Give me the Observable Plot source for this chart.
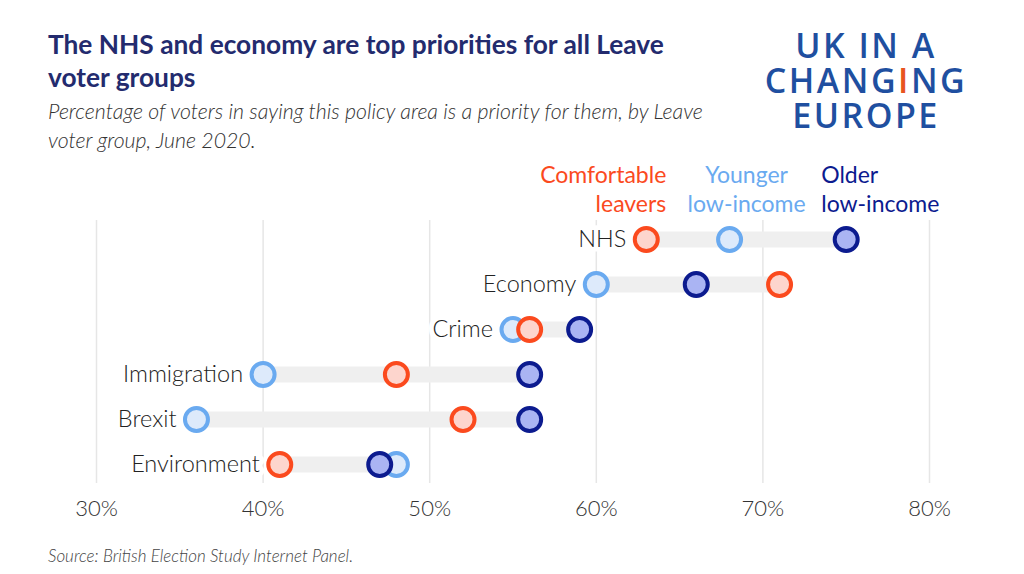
<!DOCTYPE html>
<html>
<head>
<meta charset="utf-8">
<script src="https://cdn.jsdelivr.net/npm/d3@7"></script>
<script src="https://cdn.jsdelivr.net/npm/@observablehq/plot@0.6"></script>
<style>
  html, body { margin: 0; padding: 0; background: #fff; }
  #wrap { position: relative; width: 1024px; height: 574px; overflow: hidden; font-family: Lato, "Open Sans", sans-serif; }
  #title { position: absolute; left: 48px; top: 28px; font-size: 26.3px; font-weight: 700; color: #232b6e; line-height: 33px; }
  #subtitle { position: absolute; left: 48px; top: 97px; font-size: 21.3px; font-style: italic; font-weight: 300; color: #333; line-height: 29px; }
  .logo { position: absolute; left: 741px; width: 250px; height: 35px; text-align: center; font-family: "Open Sans", sans-serif; font-weight: 600; font-size: 34px; line-height: 35px; color: #1f4fa0; letter-spacing: 2.5px; }
  .logo .o { color: #e8541e; }
  #chart { position: absolute; left: 0; top: 150px; }
  #caption { position: absolute; left: 48px; top: 545px; font-size: 17px; font-style: italic; font-weight: 300; color: #444; }
</style>
</head>
<body>
<div id="wrap">
  <div id="title">The NHS and economy are top priorities for all Leave<br>voter groups</div>
  <div id="subtitle">Percentage of voters in saying this policy area is a priority for them, by Leave<br>voter group, June 2020.</div>
  <div class="logo" style="top:28px">UK IN A</div>
  <div class="logo" style="top:63px">CHANG<span class="o">I</span>NG</div>
  <div class="logo" style="top:98px">EUROPE</div>
  <div id="chart"></div>
  <div id="caption">Source: British Election Study Internet Panel.</div>
</div>
<script>
const categories = ["NHS", "Economy", "Crime", "Immigration", "Brexit", "Environment"];
const comfortable = [63, 71, 56, 48, 52, 41];
const younger = [68, 60, 55, 40, 36, 48];
const older = [75, 66, 59, 56, 56, 47];
const groupLabels = ["Comfortable\nleavers", "Younger\nlow-income", "Older\nlow-income"];
const xTicks = [30, 40, 50, 60, 70, 80];

const rows = categories.map((c, i) => ({
  cat: c,
  comfortable: comfortable[i],
  younger: younger[i],
  older: older[i],
  min: Math.min(comfortable[i], younger[i], older[i]),
  max: Math.max(comfortable[i], younger[i], older[i])
}));

const colors = {
  comfortable: {stroke: "#fb4a1e", fill: "#fdd5cd"},
  younger: {stroke: "#6aaaf0", fill: "#ddeafb"},
  older: {stroke: "#0c1b8f", fill: "#aab4f3"}
};

const font = "Lato, 'Open Sans', sans-serif";

function legendText(label, value, color, anchor, dx) {
  return Plot.text([{label, value, cat: categories[0]}], {
    x: "value", y: "cat", text: "label", fill: color, textAnchor: anchor,
    dx, dy: -51.5, lineHeight: 1.26, lineAnchor: "middle", fontSize: 23
  });
}

const plot = Plot.plot({
  width: 1024,
  height: 390,
  marginTop: 70,
  marginBottom: 57,
  marginLeft: 96,
  marginRight: 95,
  style: {fontFamily: font, background: "transparent"},
  x: {domain: [30, 80]},
  y: {type: "point", domain: categories, padding: 0.4, axis: null},
  marks: [
    Plot.gridX(xTicks, {stroke: "#e6e6e6", strokeOpacity: 1, strokeWidth: 1.5}),
    Plot.axisX({ticks: xTicks, tickSize: 0, tickPadding: 17, tickFormat: d => d + "%", fontSize: 22, fontWeight: 300, fill: "#333", label: null}),
    Plot.ruleY(rows, {y: "cat", x1: "min", x2: "max", stroke: "#efefef", strokeWidth: 16}),
    Plot.text(rows, {x: "min", y: "cat", text: "cat", dx: -20, textAnchor: "end", fontSize: 23.5, fill: "#222", stroke: "white", strokeWidth: 10, fontWeight: 300}),
    Plot.dot(rows, {x: "younger", y: "cat", r: 11.5, fill: colors.younger.fill, stroke: colors.younger.stroke, strokeWidth: 4}),
    Plot.dot(rows, {x: "comfortable", y: "cat", r: 11.5, fill: colors.comfortable.fill, stroke: colors.comfortable.stroke, strokeWidth: 4}),
    Plot.dot(rows, {x: "older", y: "cat", r: 11.5, fill: colors.older.fill, stroke: colors.older.stroke, strokeWidth: 4}),
    legendText(groupLabels[0], comfortable[0], colors.comfortable.stroke, "end", 20),
    legendText(groupLabels[1], younger[0], colors.younger.stroke, "middle", 17),
    legendText(groupLabels[2], older[0], colors.older.stroke, "start", -25)
  ]
});

document.getElementById("chart").appendChild(plot);
</script>
</body>
</html>
